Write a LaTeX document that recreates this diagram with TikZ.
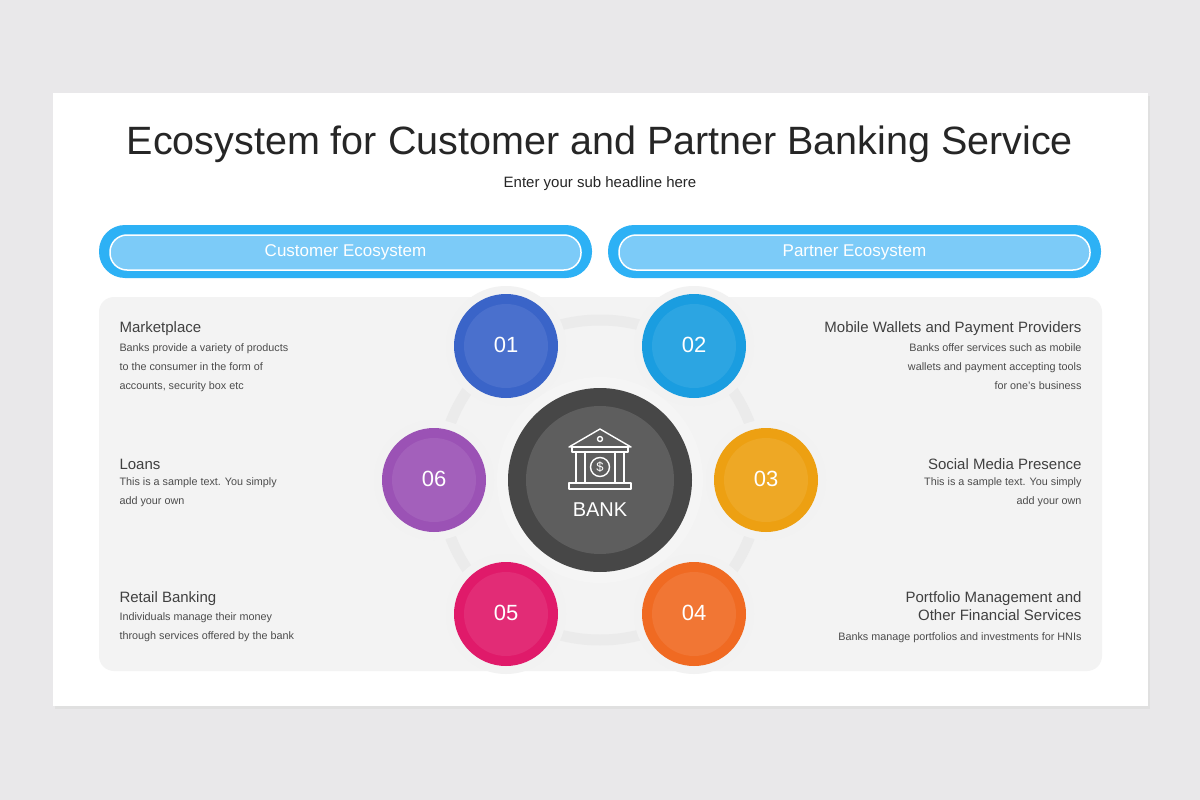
\documentclass[tikz,border=0pt]{standalone}
\usepackage{fontspec}
\setmainfont{Liberation Sans}
\begin{document}
\begin{tikzpicture}[x=1pt,y=-1pt,
  ttl/.style={anchor=west,font=\fontsize{15}{17}\selectfont,text=black!75},
  dsc/.style={anchor=north west,align=left,font=\fontsize{10.8}{19}\selectfont,text=black!70},
  ttr/.style={anchor=east,align=right,font=\fontsize{15}{18}\selectfont,text=black!75},
  dsr/.style={anchor=north east,align=right,font=\fontsize{10.8}{19}\selectfont,text=black!70},
  num/.style={circle,minimum size=104pt,inner sep=0,text=white,font=\fontsize{22}{24}\selectfont},
  ipill/.style={rounded corners=17pt,draw=white,line width=1.5pt,text=white,font=\fontsize{17}{19}\selectfont}]
\definecolor{bg}{HTML}{E9E8EA}
\definecolor{pan}{HTML}{F3F3F3}
\definecolor{cA}{HTML}{3A64C8}\definecolor{cB}{HTML}{1A9DE0}\definecolor{cC}{HTML}{EDA012}
\definecolor{cD}{HTML}{F06A22}\definecolor{cE}{HTML}{E01A6A}\definecolor{cF}{HTML}{9B52B5}
\definecolor{pl}{HTML}{2DB1F5}\definecolor{pli}{HTML}{7CCBF8}
\useasboundingbox (0,0) rectangle (1200,800);
\fill[bg] (0,0) rectangle (1200,800);
\fill[black!12] (55,96) rectangle (1150,709);
\fill[white] (53,93) rectangle (1148,706);
\node[font=\fontsize{39.5}{42}\selectfont,text=black!85] (title) at (600,144) {Ecosystem for Customer and Partner Banking Service};
\node[font=\fontsize{15}{17}\selectfont,text=black!85] (sub) at (600,184) {Enter your sub headline here};
% pills
\fill[rounded corners=26pt,pl] (99,225) rectangle (592,278);
\fill[rounded corners=26pt,pl] (608,225) rectangle (1101,278);
\node[ipill,fill=pli,minimum width=471pt,minimum height=35pt] (cust) at (345.5,252.5) {Customer Ecosystem};
\node[ipill,fill=pli,minimum width=471pt,minimum height=35pt] (part) at (854.5,252.5) {Partner Ecosystem};
% panel
\fill[pan,rounded corners=15pt] (99,297) rectangle (1102,671);
% ring
\draw[black!8,line width=11pt] (600,480) circle (160);
\fill[black!4] (600,480) circle (103);
\node[circle,fill=black!72,minimum size=184pt,inner sep=0] (bank) at (600,480) {};
\fill[black!63] (600,480) circle (74);
% icon
\begin{scope}[draw=white,line width=1.4pt,line join=round]
\draw (569,447) -- (600,429) -- (631,447) -- cycle;
\draw (600,439) circle (2.5);
\draw (572,447) rectangle (628,452);
\draw (576,452) rectangle (585,483);
\draw (615,452) rectangle (624,483);
\draw (569,483) rectangle (631,489);
\draw (600,467) circle (9.5);
\end{scope}
\node[text=white,font=\fontsize{13}{13}\selectfont] (dollar) at (600,467) {\$};
\node[text=white,font=\fontsize{20}{22}\selectfont] (banklbl) at (600,510) {BANK};
% number circles
\foreach \n/\c/\x/\y in {n1/cA/506/346,n2/cB/694/346,n3/cC/766/480,n4/cD/694/614,n5/cE/506/614,n6/cF/434/480}{
  \fill[black!5] (\x,\y) circle (60);
  \node[num,fill=\c] (\n) at (\x,\y) {};
  \fill[\c!92!white] (\x,\y) circle (42);
}
\foreach \n/\t in {n1/01,n2/02,n3/03,n4/04,n5/05,n6/06}{
  \node[text=white,font=\fontsize{22}{24}\selectfont] at ([yshift=1]\n) {\t};
}
% left text
\node[ttl] (t1) at (116,329) {Marketplace};
\node[dsc] (d1) at (116,340) {Banks provide a variety of products\\to the consumer in the form of\\accounts, security box etc};
\node[ttl] (t6) at (116,464) {Loans};
\node[dsc] (d6) at (116,474) {This is a sample text. You simply\\add your own};
\node[ttl] (t5) at (116,599) {Retail Banking};
\node[dsc] (d5) at (116,609) {Individuals manage their money\\through services offered by the bank};
% right text
\node[ttr] (t2) at (1085,329) {Mobile Wallets and Payment Providers};
\node[dsr] (d2) at (1085,340) {Banks offer services such as mobile\\wallets and payment accepting tools\\for one's business};
\node[ttr] (t3) at (1085,464) {Social Media Presence};
\node[dsr] (d3) at (1085,474) {This is a sample text. You simply\\add your own};
\node[ttr] (t4) at (1085,606) {Portfolio Management and\\Other Financial Services};
\node[dsr] (d4) at (1085,629) {Banks manage portfolios and investments for HNIs};
\end{tikzpicture}
\end{document}
